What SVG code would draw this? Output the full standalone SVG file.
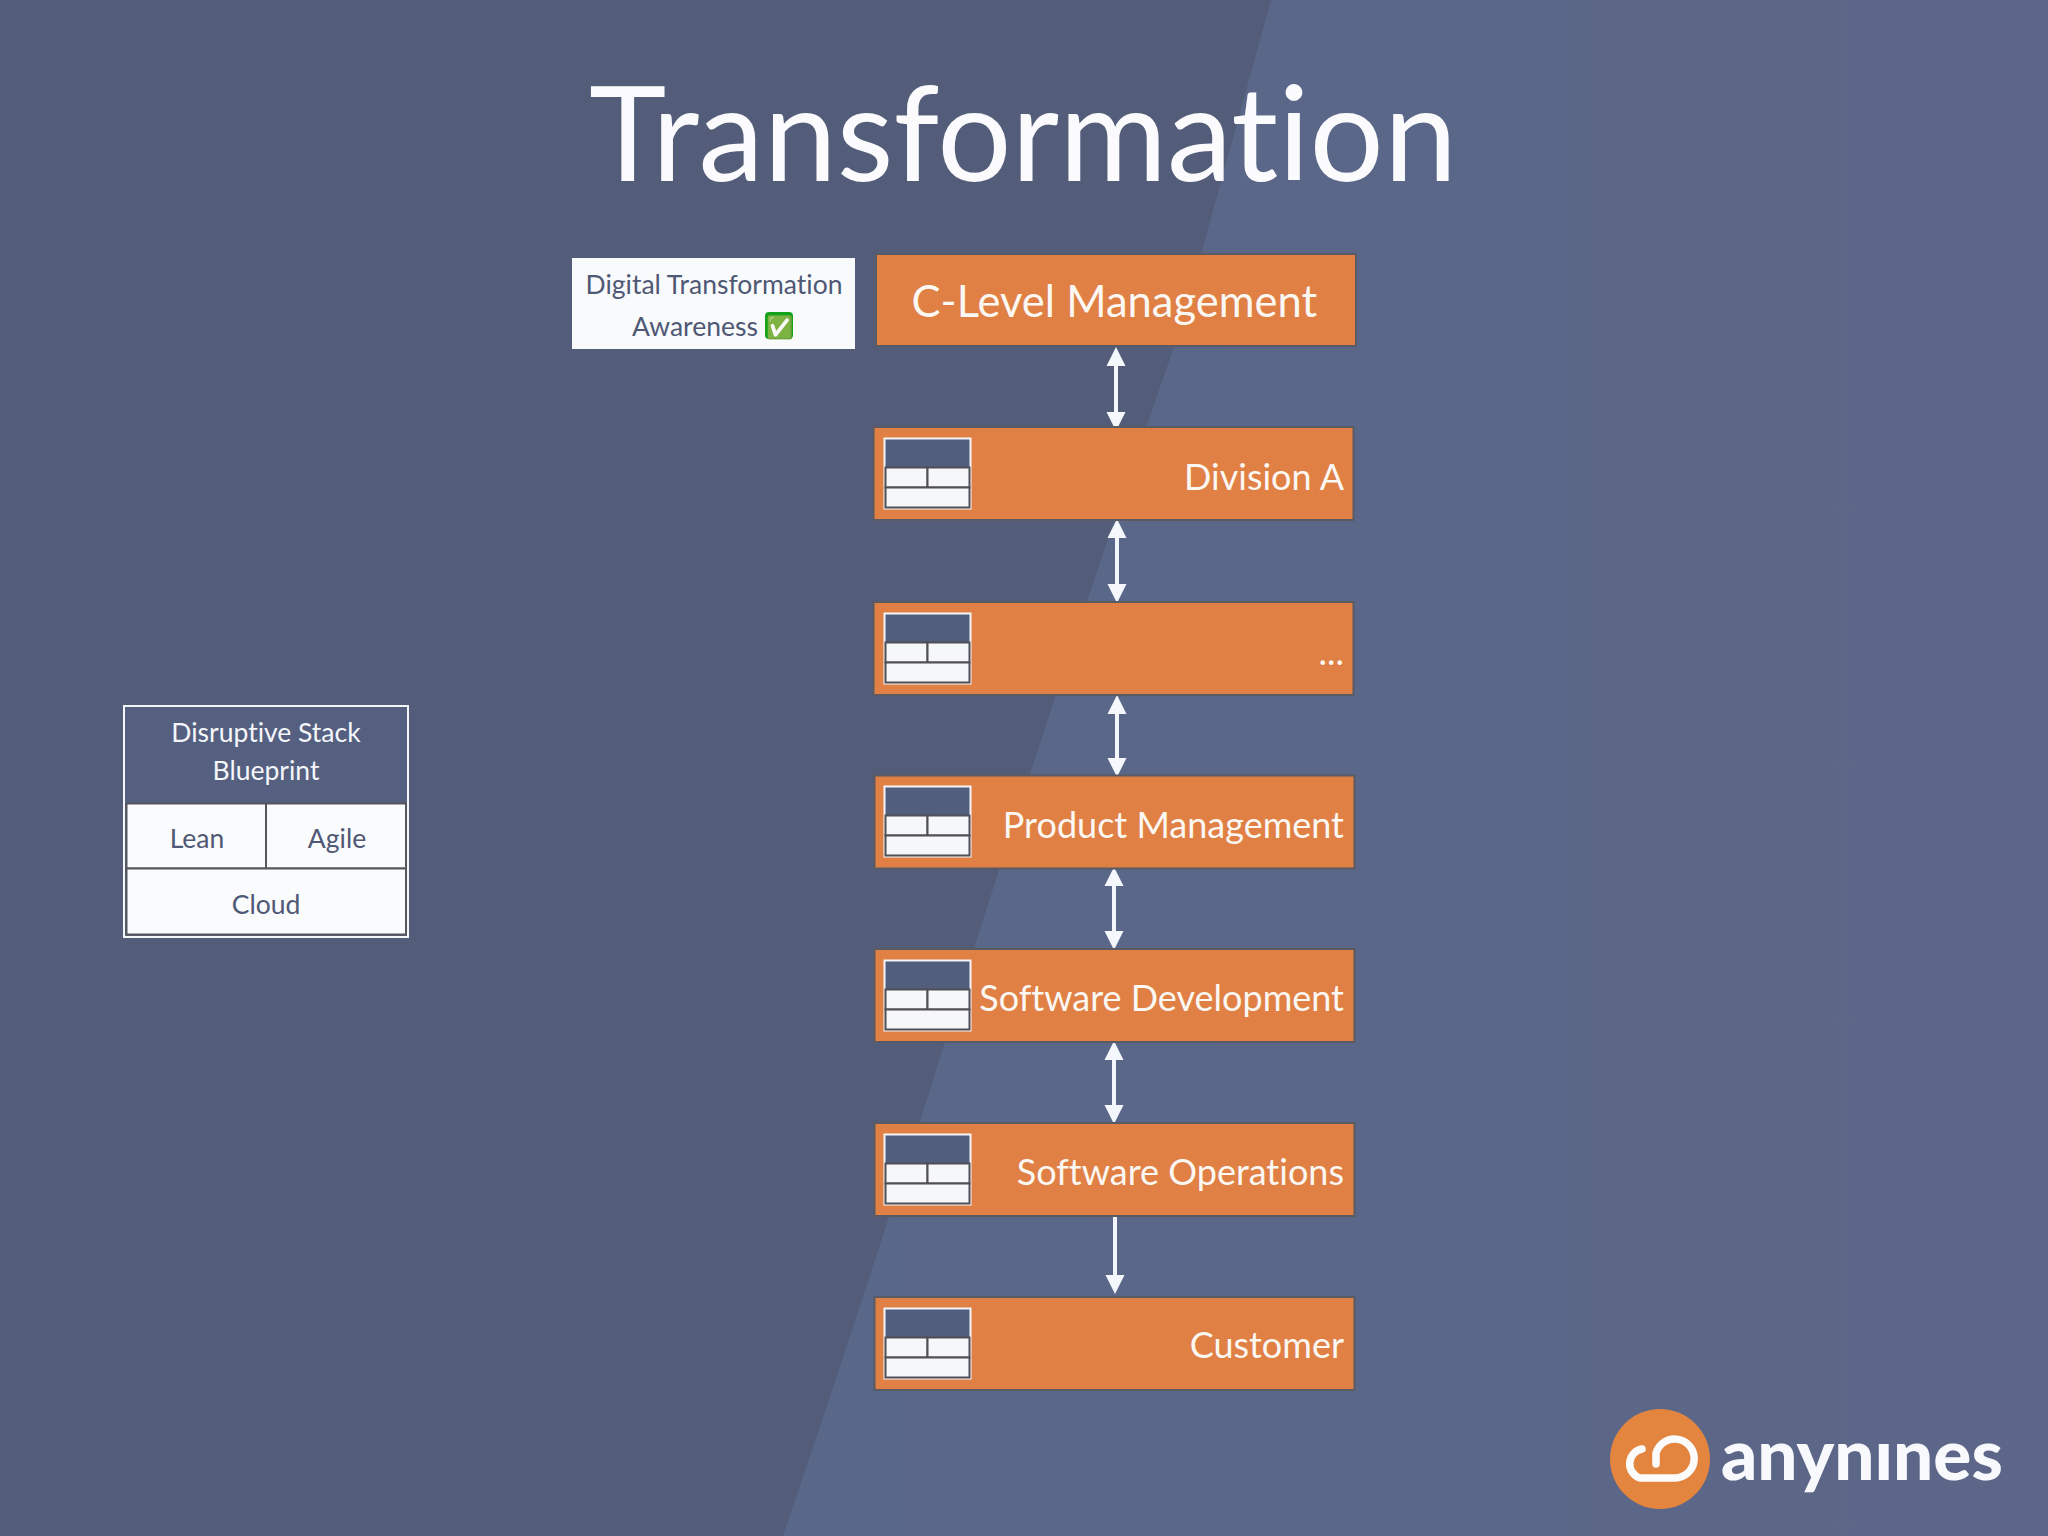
<svg xmlns="http://www.w3.org/2000/svg" width="2048" height="1536" viewBox="0 0 2048 1536">
<style>
text{font-family:"Lato","Liberation Sans",sans-serif;font-variant-ligatures:none}
.box{fill:#e08044;stroke:#5a5a62;stroke-width:2}
.n{fill:#fbf7f2;font-size:36px;font-weight:400;text-anchor:end}
.d{fill:#4f5875;font-size:26.500px;text-anchor:middle}
.l{fill:#f4f6fa;font-size:26.500px;text-anchor:middle}
.a{stroke:#f4f7fb;stroke-width:4;fill:none}
</style>
<defs>
<marker id="h" markerUnits="userSpaceOnUse" markerWidth="20" markerHeight="20" refX="2" refY="10" orient="auto-start-reverse"><path d="M0 0.5L19 10L0 19.5Z" fill="#f4f7fb"/></marker>
<g id="ic">
<rect x="0.5" y="0.5" width="86" height="70" fill="#525e7e" stroke="#f4f6fa" stroke-width="2"/>
<rect x="1.5" y="29.5" width="42" height="20" fill="#f6f7f8" stroke="#4f4f55" stroke-width="2"/>
<rect x="43.5" y="29.5" width="42" height="20" fill="#f6f7f8" stroke="#4f4f55" stroke-width="2"/>
<rect x="1.5" y="49.5" width="84" height="20" fill="#f6f7f8" stroke="#4f4f55" stroke-width="2"/>
</g>
<clipPath id="xh"><rect x="1715" y="1443" width="300" height="60"/></clipPath>
<linearGradient id="bgr" x1="0" y1="0" x2="1" y2="0"><stop offset="0" stop-color="#596788"/><stop offset="0.35" stop-color="#5a6788"/><stop offset="1" stop-color="#5d6688"/></linearGradient>
</defs>
<rect id="bg" width="2048" height="1536" fill="#535d79"/>
<path d="M1271 0L2048 0V1536H783Q850 1340 930 1090Q1050 700 1180 330Q1230 150 1271 0Z" fill="url(#bgr)"/>
<text x="1023" y="181" font-size="131" font-weight="400" fill="#fbfbfd" text-anchor="middle">Transformation</text>
<g id="connectors">
<line class="a" x1="1116" y1="364" x2="1116" y2="414" marker-start="url(#h)" marker-end="url(#h)"/>
<line class="a" x1="1117" y1="536" x2="1117" y2="586" marker-start="url(#h)" marker-end="url(#h)"/>
<line class="a" x1="1117" y1="712" x2="1117" y2="760" marker-start="url(#h)" marker-end="url(#h)"/>
<line class="a" x1="1114" y1="884" x2="1114" y2="933" marker-start="url(#h)" marker-end="url(#h)"/>
<line class="a" x1="1114" y1="1058" x2="1114" y2="1107" marker-start="url(#h)" marker-end="url(#h)"/>
<line class="a" x1="1115" y1="1217" x2="1115" y2="1277" marker-end="url(#h)"/>
</g>
<g id="awareness">
<rect x="572" y="258" width="283" height="91" fill="#f9fafc"/>
<text class="d" x="714" y="294">Digital Transformation</text>
<text class="d" x="695" y="336">Awareness</text>
<rect x="765" y="312" width="28" height="27" rx="4" fill="#12a31a"/>
<text x="779" y="335" font-size="22" fill="#fff" text-anchor="middle" style="font-family:'DejaVu Sans',sans-serif">✅</text>
</g>
<g id="c-level"><rect class="box" x="876" y="254" width="480" height="92"/><text class="n" x="1317" y="317" style="font-size:43.500px">C-Level Management</text></g>
<g id="division-a"><rect class="box" x="873.500" y="427" width="480" height="93"/><use href="#ic" x="884" y="438"/><text class="n" x="1344" y="490">Division A</text></g>
<g id="dots"><rect class="box" x="873.500" y="602" width="480" height="93"/><use href="#ic" x="884" y="613"/><text class="n" x="1344" y="665">...</text></g>
<g id="product-management"><rect class="box" x="874.500" y="775.500" width="480" height="93"/><use href="#ic" x="884" y="786"/><text class="n" x="1344" y="838">Product Management</text></g>
<g id="software-development"><rect class="box" x="874.500" y="949" width="480" height="93"/><use href="#ic" x="884" y="960"/><text class="n" x="1344" y="1011">Software Development</text></g>
<g id="software-operations"><rect class="box" x="874.500" y="1123" width="480" height="93"/><use href="#ic" x="884" y="1134"/><text class="n" x="1344" y="1185">Software Operations</text></g>
<g id="customer"><rect class="box" x="874.500" y="1297" width="480" height="93"/><use href="#ic" x="884" y="1308"/><text class="n" x="1344" y="1358">Customer</text></g>
<g id="blueprint">
<rect x="124" y="706" width="284" height="231" fill="#556080" stroke="#f4f6fa" stroke-width="2"/>
<text class="l" x="266" y="742">Disruptive Stack</text>
<text class="l" x="266" y="780">Blueprint</text>
<rect x="126.500" y="803.500" width="139.500" height="65" fill="#fafbfc" stroke="#55565c" stroke-width="2"/>
<rect x="266" y="803.500" width="140" height="65" fill="#fafbfc" stroke="#55565c" stroke-width="2"/>
<rect x="126.500" y="868.500" width="279.500" height="66" fill="#fafbfc" stroke="#55565c" stroke-width="2"/>
<text class="d" x="197" y="848">Lean</text>
<text class="d" x="337" y="848">Agile</text>
<text class="d" x="266" y="914">Cloud</text>
</g>
<g id="logo">
<circle cx="1660" cy="1459" r="50" fill="#e4853f"/>
<path d="M1642 1449A15 15 0 0 0 1640 1478H1675A19.500 19.500 0 1 0 1656 1453V1464" fill="none" stroke="#fbfbfb" stroke-width="7.500" stroke-linecap="round"/>
<text x="1721" y="1480" font-size="71" font-weight="900" fill="#f8f9fc" clip-path="url(#xh)">anynines</text>
</g>
</svg>
